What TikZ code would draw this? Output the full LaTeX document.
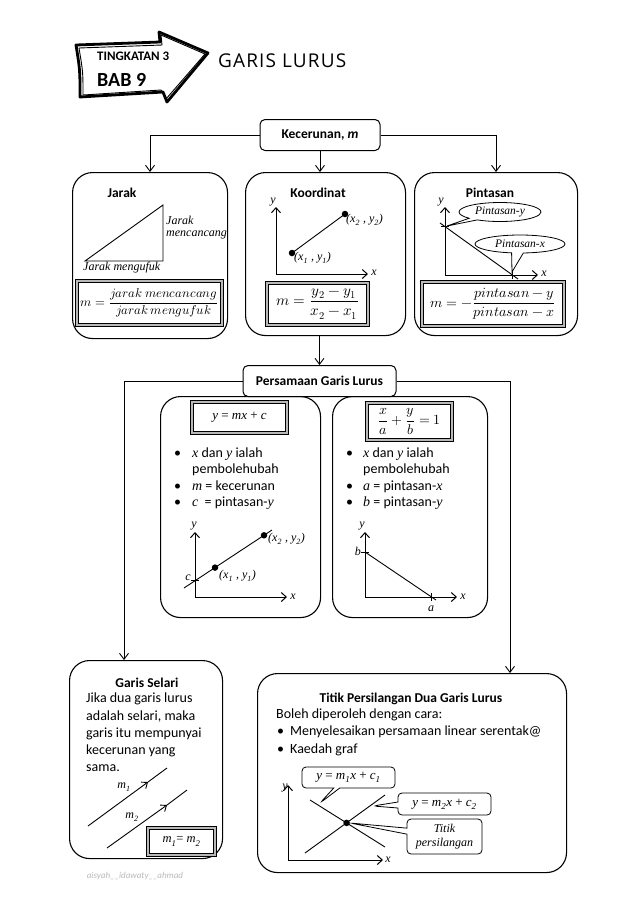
\documentclass[tikz,border=0pt]{standalone}
\usepackage{amsmath}
\usepackage{fontspec}
\usepackage{unicode-math}
\setmainfont{Carlito}
\setmathfont{Latin Modern Math}
\newfontfamily\tmsfont{Liberation Serif}
\newfontfamily\titlefont[LetterSpace=6]{Open Sans}
\usetikzlibrary{arrows.meta,shapes.geometric,shapes.callouts}
\newcommand{\ti}[1]{{\tmsfont\itshape #1}}
\newcommand{\bul}[1]{\makebox[#1][l]{\textbullet}}
\begin{document}
\begin{tikzpicture}[x=1pt,y=-1pt,
 rbox/.style={draw, line width=1.1pt, rounded corners=20pt, anchor=north west, inner sep=0pt},
 tbox/.style={draw, line width=1pt, rounded corners=5pt, inner sep=0pt, font=\fontsize{13.5}{16}\selectfont\bfseries},
 fbox/.style={draw, line width=0.9pt, double=gray!55, double distance=1.6pt, inner sep=0pt, font=\fontsize{15}{17}\selectfont},
 conn/.style={line width=0.9pt, -{Straight Barb[length=6pt,width=9pt]}},
 axisarr/.style={line width=1pt, -{Straight Barb[length=5pt,width=9pt]}},
 hdr/.style={font=\fontsize{13.5}{16}\selectfont\bfseries, anchor=base, inner sep=0pt},
 body/.style={font=\fontsize{14}{17}\selectfont, anchor=base west, inner sep=0pt},
 lbl/.style={font=\fontsize{12}{14}\selectfont\tmsfont\itshape, inner sep=0pt},
 dot/.style={circle, fill=black, inner sep=0pt, minimum size=6.5pt},
 thin/.style={line width=0.9pt},
 callo/.style={rectangle callout, draw, line width=0.8pt, rounded corners=4pt, fill=white, inner sep=0pt, callout pointer width=6pt, font=\fontsize{13}{14}\selectfont\tmsfont\itshape},
 ecallo/.style={ellipse callout, draw, line width=0.8pt, fill=white, inner sep=0pt, callout pointer width=8pt, font=\fontsize{11.5}{13}\selectfont\tmsfont\itshape},
]
\fill[white] (0,0) rectangle (638,922);
\useasboundingbox (0,0) rectangle (638,922);

% ---------- header arrow ----------
\draw[line width=2.8pt, line join=round] (76,45) .. controls (80,70) .. (80,97) -- (163,92) -- (167,102) -- (208,53) -- (159,32) -- (160,42) -- cycle;
\draw[line width=0.9pt, line join=round] (79,48) .. controls (83,72) .. (83,95) -- (161,90) -- (166,99) -- (205,54) -- (161,35) -- (162,45) -- cycle;
\node[anchor=base west, inner sep=0pt, font=\fontsize{13}{15}\selectfont\bfseries] (tk) at (97,60) {TINGKATAN 3};
\node[anchor=base west, inner sep=0pt, font=\fontsize{20}{22}\selectfont\bfseries] (bab) at (97,86) {BAB 9};
\node[anchor=base west, inner sep=0pt, font=\fontsize{19}{21}\selectfont\titlefont] (gl) at (218,67) {GARIS LURUS};

% ---------- main boxes ----------
\node[tbox, minimum width=120pt, minimum height=31pt] (kec) at (320,135) {Kecerunan, \textit{m}};
\node[rbox, minimum width=155pt, minimum height=166pt] (jarak) at (72,172) {};
\node[rbox, minimum width=160pt, minimum height=163pt] (koord) at (245,172) {};
\node[rbox, minimum width=163pt, minimum height=163pt] (pint) at (414,172) {};
\node[tbox, minimum width=153pt, minimum height=31pt] (pers) at (319.5,381) {Persamaan Garis Lurus};
\node[rbox, minimum width=160pt, minimum height=221pt] (mida) at (160,396) {};
\node[rbox, minimum width=155pt, minimum height=221pt] (midb) at (332,396) {};
\node[rbox, minimum width=153pt, minimum height=198pt] (gs) at (69,660) {};
\node[rbox, minimum width=309pt, minimum height=199pt] (tp) at (257,673) {};
\coordinate (gsin) at (124,660);
\coordinate (tpin) at (510,673);

\draw[conn] (kec.west) -| (jarak.north);
\draw[conn] (kec.south) -- (kec.south |- koord.north);
\draw[conn] (kec.east) -| (pint.north);
\draw[conn] (pers.north |- koord.south) -- (pers.north);
\draw[conn] (pers.west) -| (gsin);
\draw[conn] (pers.east) -| (tpin);

% ---------- Jarak ----------
\node[hdr] (hj) at (122,197) {Jarak};
\coordinate (ta) at (85,261); \coordinate (tb) at (163,261); \coordinate (tc) at (163,205);
\draw[thin] (ta) -- (tb) -- (tc) -- cycle;
\node[lbl, anchor=west] (lj1) at (166,220) {Jarak};
\node[lbl, anchor=west] (lj2) at (166,235) {mencancang};
\node[lbl, anchor=west] (lj3) at (83,268) {Jarak mengufuk};
\node[fbox, minimum width=145pt, minimum height=44pt, font=\fontsize{12.8}{15}\selectfont] (fj) at (149.5,303) {$m=\dfrac{jarak\ mencancang}{jarak\ mengufuk}$};

% ---------- Koordinat ----------
\node[hdr] (hk) at (318,197) {Koordinat};
\coordinate (ko) at (276,274); \coordinate (ky) at (276,207); \coordinate (kx) at (368,274);
\draw[axisarr] (ko) -- (ky);
\draw[axisarr] (ko) -- (kx);
\node[lbl] (kyl) at (273,202) {y};
\node[lbl] (kxl) at (374,273) {x};
\node[dot] (kp1) at (292,253) {};
\node[dot] (kp2) at (345,214) {};
\draw[thin] (kp1.center) -- (kp2.center);
\node[lbl, anchor=west] (kl1) at (294,258) {(x\textsubscript{1} , y\textsubscript{1})};
\node[lbl, anchor=west] (kl2) at (346,220) {(x\textsubscript{2} , y\textsubscript{2})};
\node[fbox, minimum width=101pt, minimum height=42pt] (fk) at (317.5,304) {$m=\dfrac{y_2-y_1}{x_2-x_1}$};

% ---------- Pintasan ----------
\node[hdr] (hp) at (490,197) {Pintasan};
\coordinate (po) at (445,275); \coordinate (py) at (445,207); \coordinate (px) at (538,275);
\draw[axisarr] (po) -- (py);
\draw[axisarr] (po) -- (px);
\node[lbl] (pyl) at (441,202) {y};
\node[lbl] (pxl) at (544,274) {x};
\coordinate (pa) at (440,223); \coordinate (pb) at (518,279);
\draw[thin] (pa) -- (pb);
\coordinate (pt1) at (441,226.6); \coordinate (pt2) at (449,226.6);
\coordinate (pt3) at (512.4,271); \coordinate (pt4) at (512.4,279);
\draw[thin] (pt1) -- (pt2);
\draw[thin] (pt3) -- (pt4);
\node[ecallo, minimum width=82pt, minimum height=19pt, callout absolute pointer={(447,226)}] (cpy) at (500,212) {Pintasan-y};
\node[ecallo, minimum width=90pt, minimum height=18pt, callout absolute pointer={(512,272)}] (cpx) at (520,244) {Pintasan-x};
\node[fbox, minimum width=142pt, minimum height=44pt, font=\fontsize{14}{16}\selectfont] (fp) at (493,304) {$m=-\dfrac{pintasan-y}{pintasan-x}$};

% ---------- y = mx + c ----------
\node[fbox, minimum width=95pt, minimum height=31pt, font=\fontsize{13}{15}\selectfont\tmsfont] (fa) at (239.5,417.5) {\ti{y} = \ti{mx} + \ti{c}};
\node[body] (a1) at (174,457) {\bul{18pt}\ti{x} dan \ti{y} ialah};
\node[body] (a2) at (192,473) {pembolehubah};
\node[body] (a3) at (174,490) {\bul{18pt}\ti{m} = kecerunan};
\node[body] (a4) at (174,506) {\bul{18pt}\ti{c}\ \ = pintasan-\ti{y}};
\coordinate (ao) at (195,597); \coordinate (ay) at (195,532); \coordinate (ax) at (287,597);
\draw[axisarr] (ao) -- (ay);
\draw[axisarr] (ao) -- (ax);
\node[lbl] (ayl) at (194,526) {y};
\node[lbl] (axl) at (293,597) {x};
\coordinate (aa) at (184,588); \coordinate (ab) at (272,530);
\draw[thin] (aa) -- (ab);
\node[dot] (ad1) at (215,567.6) {};
\node[dot] (ad2) at (264,535.3) {};
\coordinate (at1) at (191,580.8); \coordinate (at2) at (199,580.8);
\draw[thin] (at1) -- (at2);
\node[lbl, anchor=east] (acl) at (191,578) {c};
\node[lbl, anchor=west] (al1) at (219,576) {(x\textsubscript{1} , y\textsubscript{1})};
\node[lbl, anchor=west] (al2) at (268,539) {(x\textsubscript{2} , y\textsubscript{2})};

% ---------- x/a + y/b = 1 ----------
\node[fbox, minimum width=85pt, minimum height=37pt, font=\fontsize{14}{16}\selectfont] (fb) at (409.5,421.5) {$\dfrac{x}{a}+\dfrac{y}{b}=1$};
\node[body] (b1) at (346,457) {\bul{17pt}\ti{x} dan \ti{y} ialah};
\node[body] (b2) at (363,473) {pembolehubah};
\node[body] (b3) at (346,490) {\bul{17pt}\ti{a} = pintasan-\ti{x}};
\node[body] (b4) at (346,506) {\bul{17pt}\ti{b} = pintasan-\ti{y}};
\coordinate (bo) at (365,597); \coordinate (by) at (365,532); \coordinate (bx) at (457,597);
\draw[axisarr] (bo) -- (by);
\draw[axisarr] (bo) -- (bx);
\node[lbl] (byl) at (362,526) {y};
\node[lbl] (bxl) at (463,597) {x};
\coordinate (ba) at (365,552); \coordinate (bb) at (436,600);
\draw[thin] (ba) -- (bb);
\coordinate (bt1) at (361,552); \coordinate (bt2) at (369,552);
\coordinate (bt3) at (431.6,593); \coordinate (bt4) at (431.6,601);
\draw[thin] (bt1) -- (bt2);
\draw[thin] (bt3) -- (bt4);
\node[lbl, anchor=east] (bbl) at (361,551) {b};
\node[lbl] (bal) at (431,609) {a};

% ---------- Garis Selari ----------
\node[hdr] (hg) at (147,687) {Garis Selari};
\node[body] (g1) at (86,702) {Jika dua garis lurus};
\node[body] (g2) at (86,720) {adalah selari, maka};
\node[body] (g3) at (86,737) {garis itu mempunyai};
\node[body] (g4) at (86,754) {kecerunan yang};
\node[body] (g5) at (86,771) {sama.};
\coordinate (s1a) at (88,826); \coordinate (s1m) at (148,782); \coordinate (s1b) at (167,768);
\coordinate (s2a) at (107,848); \coordinate (s2m) at (167,805); \coordinate (s2b) at (187,790);
\draw[thin, -{Straight Barb[length=5pt,width=8pt]}] (s1a) -- (s1m);
\draw[thin] (s1m) -- (s1b);
\draw[thin, -{Straight Barb[length=5pt,width=8pt]}] (s2a) -- (s2m);
\draw[thin] (s2m) -- (s2b);
\node[lbl] (m1l) at (124,787) {m\textsubscript{1}};
\node[lbl] (m2l) at (132,817) {m\textsubscript{2}};
\node[fbox, minimum width=67pt, minimum height=27pt, font=\fontsize{12.5}{14}\selectfont\tmsfont\itshape] (fm) at (181.5,841.5) {m\textsubscript{1}{\upshape=} m\textsubscript{2}};

% ---------- Titik Persilangan ----------
\node[hdr] (ht) at (411,702) {Titik Persilangan Dua Garis Lurus};
\node[body] (t1) at (276,718) {Boleh diperoleh dengan cara:};
\node[body] (t2) at (277,735) {\bul{13pt}Menyelesaikan persamaan linear serentak@};
\node[body] (t3) at (277,753) {\bul{13pt}Kaedah graf};
\coordinate (to) at (288,860); \coordinate (ty) at (288,785); \coordinate (tx) at (383,860);
\draw[axisarr] (to) -- (ty);
\draw[axisarr] (to) -- (tx);
\node[lbl] (tyl) at (285,788) {y};
\node[lbl] (txl) at (388,860) {x};
\coordinate (la1) at (310,800); \coordinate (la2) at (385,847);
\coordinate (lb1) at (305,853); \coordinate (lb2) at (385,795);
\draw[thin] (la1) -- (la2);
\draw[thin] (lb1) -- (lb2);
\node[dot] (tdot) at (346.6,822.9) {};
\node[callo, minimum width=93pt, minimum height=21pt, callout absolute pointer={(320,803)}] (c1) at (348.5,777.5) {y {\upshape=} m\textsubscript{1}x {\upshape+} c\textsubscript{1}};
\node[callo, minimum width=93pt, minimum height=22pt, callout absolute pointer={(373,806)}] (c2) at (444.5,804) {y {\upshape=} m\textsubscript{2}x {\upshape+} c\textsubscript{2}};
\node[callo, minimum width=75pt, minimum height=35pt, align=center, font=\fontsize{12}{14}\selectfont\tmsfont\itshape, callout absolute pointer={(350,823)}] (c3) at (444.5,836.5) {Titik\\persilangan};

% ---------- signature ----------
\node[inner sep=0pt, text=gray!55, font=\fontsize{9}{10}\selectfont\itshape] (sig) at (135,876) {aisyah\_\_idawaty\_\_ahmad};
\end{tikzpicture}
\end{document}
